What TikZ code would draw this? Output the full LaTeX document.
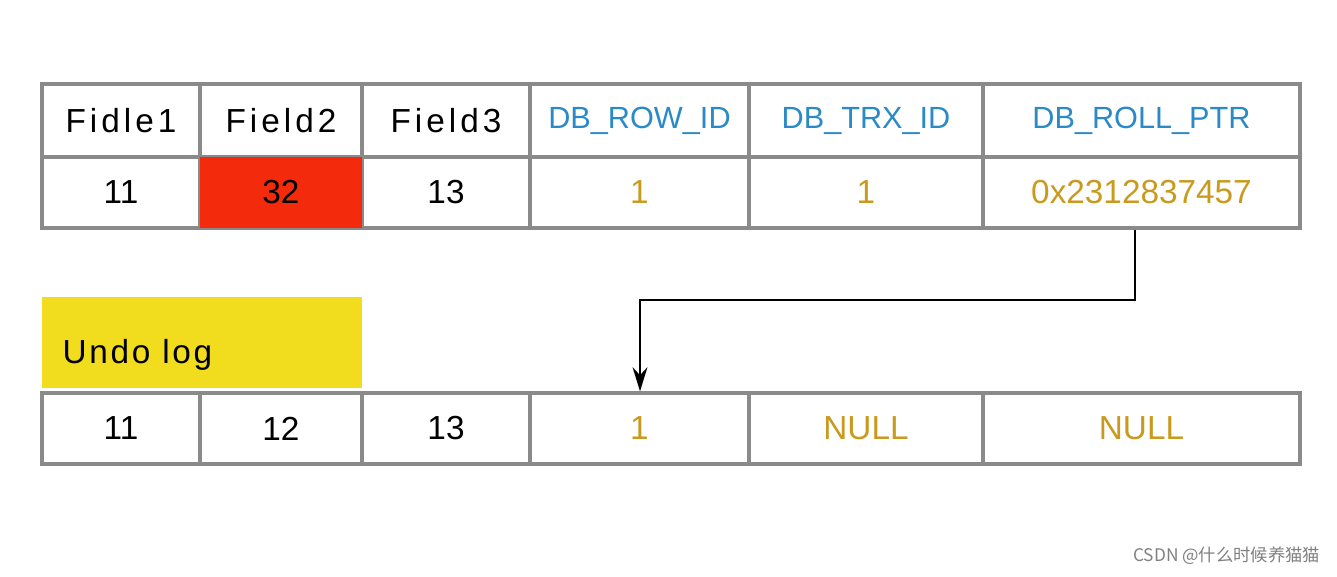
\documentclass[tikz,border=0pt]{standalone}
\usepackage{fontspec}
\setmainfont{Liberation Sans}
\newfontfamily\cjk{Noto Sans CJK SC}
\usetikzlibrary{arrows.meta}
\definecolor{cblue}{HTML}{2A8AC8}
\definecolor{cgold}{HTML}{C89A1E}
\definecolor{cgrid}{HTML}{8A8A8A}
\definecolor{cred}{HTML}{F42A0C}
\definecolor{cyel}{HTML}{F2DC1E}
\tikzset{
  cell/.style={draw=cgrid,line width=2.4pt,inner sep=0pt},
  txt/.style={font=\fontsize{25}{28}\selectfont},
  hdt/.style={font=\fontsize{25}{28}\selectfont\addfontfeatures{LetterSpace=12}},
  dbt/.style={font=\fontsize{23}{26}\selectfont,text=cblue},
  gold/.style={txt,text=cgold},
}
\begin{document}
\begin{tikzpicture}[x=0.75pt,y=-0.75pt]
\useasboundingbox (0,0) rectangle (1337,577);
\foreach \i/\a/\b in {1/42/200,2/200/362,3/362/530,4/530/749,5/749/983,6/983/1300}{
  \node[cell,minimum width={(\b-\a)*0.75pt},minimum height={73*0.75pt}] (h\i) at ({(\a+\b)/2},120.5) {};
  \node[cell,minimum width={(\b-\a)*0.75pt},minimum height={71*0.75pt}] (r\i) at ({(\a+\b)/2},192.5) {};
  \node[cell,minimum width={(\b-\a)*0.75pt},minimum height={71*0.75pt}] (u\i) at ({(\a+\b)/2},428.5) {};
}
\fill[cred] ([shift={(1.2pt,-1.2pt)}]r2.north west) rectangle ([shift={(-1.2pt,1.2pt)}]r2.south east);
\node[hdt] at (h1) {Fidle1};
\node[hdt] at (h2) {Field2};
\node[hdt] at (h3) {Field3};
\node[dbt] at (h4) {DB\_ROW\_ID};
\node[dbt] at (h5) {DB\_TRX\_ID};
\node[dbt] at (h6) {DB\_ROLL\_PTR};
\node[txt] at (r1) {11};
\node[txt] at (r2) {32};
\node[txt] at (r3) {13};
\node[gold] at (r4) {1};
\node[gold] at (r5) {1};
\node[gold] at (r6) {0x2312837457};
\node[txt] at (u1) {11};
\node[txt] at (u2) {12};
\node[txt] at (u3) {13};
\node[gold] at (u4) {1};
\node[gold] at (u5) {NULL};
\node[gold] at (u6) {NULL};
% undo log box
\node[fill=cyel,minimum width={320*0.75pt},minimum height={91*0.75pt},inner sep=0pt] (undo) at (202,342.5) {};
\node[anchor=west,font=\fontsize{25}{28}\selectfont\addfontfeatures{LetterSpace=8}] (undot) at (58,355) {Undo log};
% arrow
\coordinate (bend1) at (1135,300);
\coordinate (bend2) at (640,300);
\draw[line width=2.2pt,-{Stealth[length=18pt,width=11pt]}] (r6.south -| bend1) -- (bend1) -- (bend2) -- (u4.north -| bend2);
% watermark
\node[anchor=east,font=\fontsize{13}{15}\selectfont\cjk,text=gray] (wm) at (1325,556) {CSDN @什么时候养猫猫};
\end{tikzpicture}
\end{document}
